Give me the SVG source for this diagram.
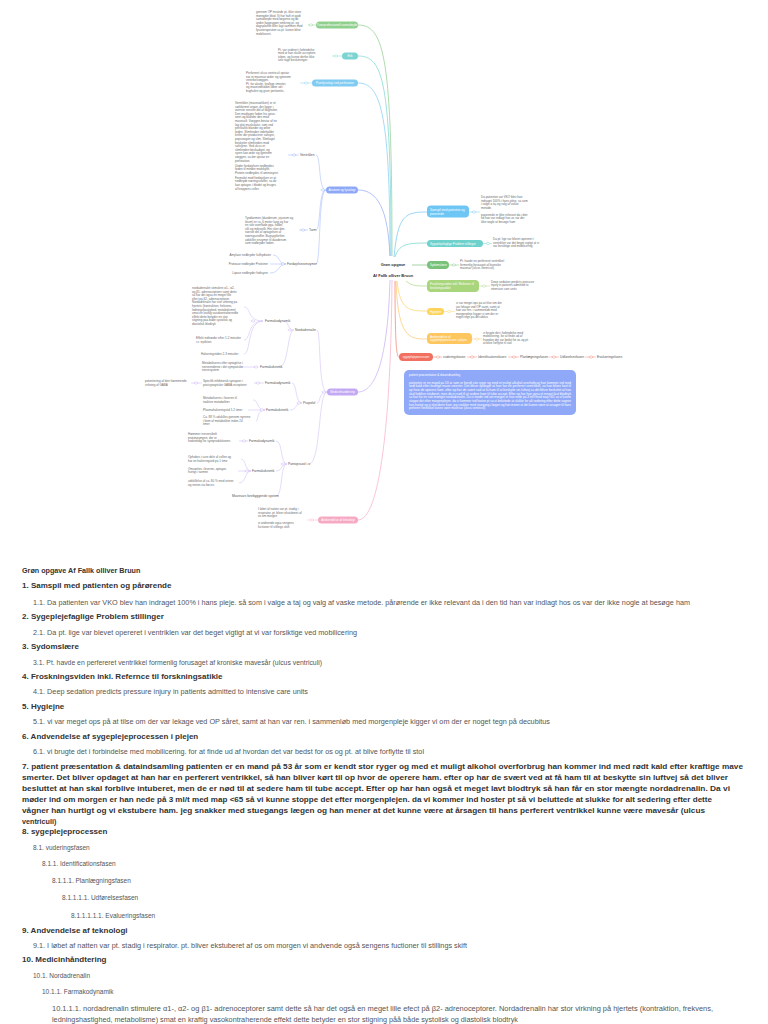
<svg xmlns="http://www.w3.org/2000/svg" width="768" height="1024" viewBox="0 0 768 1024">
<style>
text{font-family:"Liberation Sans",Arial,sans-serif}
.mm{font-size:3px;fill:#6a6a6a}
.lb{font-size:3.3px;fill:#555}
.pt{font-size:3px;fill:#fff}
.rt{font-size:4px;font-weight:bold;fill:#333;text-anchor:middle}
.bt{font-size:3px;fill:#fff}
.ti{font-size:7.2px;font-weight:bold;fill:#333}
.h{font-size:8px;font-weight:bold;fill:#333}
.s{font-size:6.5px;fill:#555}
.p{font-size:7.2px;font-weight:bold;fill:#333}
.c{fill:none;stroke-width:0.8}
.cs{fill:none;stroke-width:0.5}
</style>
<defs>
<path id="dm" d="M-2.2,0 L0,-1.3 L2.2,0 L0,1.3 Z" fill="#fff" stroke-width="0.5"/>
</defs>
<rect width="768" height="1024" fill="#fff"/>

<g id="connectors">
<path class="c" stroke="#9ad39a" d="M358,25 C385,25 392,60 392,256"/>
<path class="c" stroke="#86dad6" d="M358,56 C383,56 391,80 391,256"/>
<path class="c" stroke="#8fd2f4" d="M358,83 C380,83 390,110 390,256"/>
<path class="c" stroke="#9db4f8" d="M358,190 C378,190 388,210 390,256"/>
<path class="c" stroke="#cbb6f5" d="M390,280 C388,350 378,392 358,392"/>
<path class="c" stroke="#f7b8cc" d="M392,280 C391,420 380,520 358,520"/>
<path class="c" stroke="#80cdf5" d="M394,257 C398,215 405,212 427,212"/>
<path class="c" stroke="#7fd6d1" d="M395,257 C399,245 405,243 427,243"/>
<path class="c" stroke="#8ac98a" d="M412,265 L427,265"/>
<path class="c" stroke="#b5db90" d="M406,281 C412,286 416,286 427,286"/>
<path class="c" stroke="#fdd873" d="M397,281 C400,311 410,311 427,311"/>
<path class="c" stroke="#fdcd78" d="M396,281 C398,339 410,339 427,339"/>
<path class="c" stroke="#f48a7c" d="M395,281 C395,350 397,357 399,357"/>
<!-- green -->
<path class="cs" stroke="#9ad39a" d="M308,25 L316,25"/>
<!-- teal -->
<path class="cs" stroke="#86dad6" d="M332,56 L342,56"/>
<!-- light blue -->
<path class="cs" stroke="#8fd2f4" d="M300,83 L312,83"/>
<!-- periwinkle -->
<path class="cs" stroke="#9db4f8" d="M326,190 C318,190 321,155 316,155"/>
<path class="cs" stroke="#9db4f8" d="M326,190 C318,190 321,230 316,230"/>
<path class="cs" stroke="#9db4f8" d="M326,190 C318,190 321,264 316,264"/>
<path class="cs" stroke="#9db4f8" d="M288,155 L299,155"/>
<path class="cs" stroke="#9db4f8" d="M299,230 L308,230"/>
<path class="cs" stroke="#9db4f8" d="M286,264 C278,264 280,255 273,255"/>
<path class="cs" stroke="#9db4f8" d="M286,264 L270,264"/>
<path class="cs" stroke="#9db4f8" d="M286,264 C278,264 280,273 270,273"/>
<!-- purple -->
<path class="cs" stroke="#cbb6f5" d="M327,392 C318,392 321,330 317,330"/>
<path class="cs" stroke="#cbb6f5" d="M327,392 C318,392 321,403 317,403"/>
<path class="cs" stroke="#cbb6f5" d="M327,392 C318,392 321,464 309,464"/>
<path class="cs" stroke="#cbb6f5" d="M294,330 C287,330 289,321 284,321"/>
<path class="cs" stroke="#cbb6f5" d="M294,330 C287,330 289,367 279,367"/>
<path class="cs" stroke="#cbb6f5" d="M263,321 C247,321 251,307 244,307"/>
<path class="cs" stroke="#cbb6f5" d="M263,321 C247,321 251,340 244,340"/>
<path class="cs" stroke="#cbb6f5" d="M263,321 C247,321 251,354 244,354"/>
<path class="cs" stroke="#cbb6f5" d="M258,367 L241,367"/>
<path class="cs" stroke="#cbb6f5" d="M302,403 C295,403 297,383 292,383"/>
<path class="cs" stroke="#cbb6f5" d="M302,403 C295,403 297,410 290,410"/>
<path class="cs" stroke="#cbb6f5" d="M264,383 L254,383"/>
<path class="cs" stroke="#cbb6f5" d="M202,383 L191,383"/>
<path class="cs" stroke="#cbb6f5" d="M265,410 C256,410 259,400 253,400"/>
<path class="cs" stroke="#cbb6f5" d="M265,410 L248,410"/>
<path class="cs" stroke="#cbb6f5" d="M265,410 C256,410 259,421 256,421"/>
<path class="cs" stroke="#cbb6f5" d="M287,464 C280,464 283,441 276,441"/>
<path class="cs" stroke="#cbb6f5" d="M287,464 C280,464 283,471 276,471"/>
<path class="cs" stroke="#cbb6f5" d="M287,464 C280,464 283,496 276,496"/>
<path class="cs" stroke="#cbb6f5" d="M248,441 L239,441"/>
<path class="cs" stroke="#cbb6f5" d="M251,471 C245,471 246,459 241,459"/>
<path class="cs" stroke="#cbb6f5" d="M251,471 L238,471"/>
<path class="cs" stroke="#cbb6f5" d="M251,471 C245,471 246,483 239,483"/>
<!-- pink -->
<path class="cs" stroke="#f7b8cc" d="M307,520 L318,520"/>
<!-- right -->
<path class="cs" stroke="#80cdf5" d="M469,212 L480,212"/>
<path class="cs" stroke="#7fd6d1" d="M483,243.5 L492,243.5"/>
<path class="cs" stroke="#8ac98a" d="M449,265 L459,265"/>
<path class="cs" stroke="#b5db90" d="M479,286 L490,286"/>
<path class="cs" stroke="#fdd873" d="M444,311.5 L455,311.5"/>
<path class="cs" stroke="#fdcd78" d="M472,339 L482,339"/>
<path class="cs" stroke="#f48a7c" d="M433,357 L442,357 M467,357 L477,357 M508,357 L519,357 M549,357 L559,357 M585,357 L596,357"/>
</g>

<g id="markers">
<use href="#dm" x="311" y="25" stroke="#9ad39a"/>
<use href="#dm" x="336" y="56" stroke="#86dad6"/>
<use href="#dm" x="306" y="83" stroke="#8fd2f4"/>
<use href="#dm" x="323" y="190" stroke="#9db4f8"/>
<use href="#dm" x="294" y="155" stroke="#9db4f8"/>
<use href="#dm" x="303" y="230" stroke="#9db4f8"/>
<use href="#dm" x="283" y="264" stroke="#9db4f8"/>
<use href="#dm" x="324" y="392" stroke="#cbb6f5"/>
<use href="#dm" x="290" y="330" stroke="#cbb6f5"/>
<use href="#dm" x="253" y="321" stroke="#cbb6f5"/>
<use href="#dm" x="256" y="367" stroke="#cbb6f5"/>
<use href="#dm" x="299" y="403" stroke="#cbb6f5"/>
<use href="#dm" x="258" y="383" stroke="#cbb6f5"/>
<use href="#dm" x="196" y="383" stroke="#cbb6f5"/>
<use href="#dm" x="262" y="410" stroke="#cbb6f5"/>
<use href="#dm" x="283" y="464" stroke="#cbb6f5"/>
<use href="#dm" x="244" y="441" stroke="#cbb6f5"/>
<use href="#dm" x="247" y="471" stroke="#cbb6f5"/>
<use href="#dm" x="312" y="520" stroke="#f7b8cc"/>
<use href="#dm" x="474" y="212" stroke="#80cdf5"/>
<use href="#dm" x="488" y="243.5" stroke="#7fd6d1"/>
<use href="#dm" x="454" y="265" stroke="#8ac98a"/>
<use href="#dm" x="484" y="286" stroke="#b5db90"/>
<use href="#dm" x="449" y="311.5" stroke="#fdd873"/>
<use href="#dm" x="477" y="339" stroke="#fdcd78"/>
<use href="#dm" x="438" y="357" stroke="#f48a7c"/>
<use href="#dm" x="472" y="357" stroke="#f48a7c"/>
<use href="#dm" x="514" y="357" stroke="#f48a7c"/>
<use href="#dm" x="554" y="357" stroke="#f48a7c"/>
<use href="#dm" x="591" y="357" stroke="#f48a7c"/>
</g>

<g id="root">
<text class="rt" x="393" y="266">Grøn opgave</text>
<text class="rt" x="393" y="277">Af Fallk olliver Bruun</text>
</g>

<g id="n-samarbejde">
<rect x="316" y="21.5" width="42" height="7" rx="3.5" fill="#8fd08f"/>
<text class="pt" x="337" y="26.2" text-anchor="middle" font-size="2.8">Tværprofessionelt samarbejde</text>
<text class="mm" x="256" y="13"><tspan x="256">gennem OP mistede pt. ikke store</tspan><tspan x="256" dy="3.6">mængder blod. Vi har haft et godt</tspan><tspan x="256" dy="3.6">samarbejde med lægerne og de</tspan><tspan x="256" dy="3.6">andre faggrupper omkring pt. og</tspan><tspan x="256" dy="3.6">dagsplanen blev lagt sammen med</tspan><tspan x="256" dy="3.6">fysioterapeuten så pt. kunne blive</tspan><tspan x="256" dy="3.6">mobiliseret.</tspan></text>
</g>

<g id="n-etik">
<rect x="342" y="52.5" width="16" height="7" rx="3.5" fill="#7ad5d2"/>
<text class="pt" x="350" y="57.2" text-anchor="middle">Etik</text>
<text class="mm" x="278" y="50.5"><tspan x="278">Pt. var sederet i forbindelse</tspan><tspan x="278" dy="3.6">med at han skulle acceptere</tspan><tspan x="278" dy="3.6">tuben, og kunne derfor ikke</tspan><tspan x="278" dy="3.6">selv tage beslutninger.</tspan></text>
</g>

<g id="n-patofysiologi">
<rect x="312" y="79.5" width="46" height="7" rx="3.5" fill="#7fcbf2"/>
<text class="pt" x="335" y="84.2" text-anchor="middle">Patofysiologi ved perforation</text>
<text class="mm" x="246" y="74"><tspan x="246">Perforeret ulcus ventriculi opstår</tspan><tspan x="246" dy="3.6">når et mavesår æder sig igennem</tspan><tspan x="246" dy="3.6">ventrikelvæggen.</tspan><tspan x="246" dy="3.6">Pt. får akutte, kraftige smerter,</tspan><tspan x="246" dy="3.6">og maveindholdet løber ud i</tspan><tspan x="246" dy="3.6">bughulen og giver peritonitis.</tspan></text>
</g>

<g id="n-anatomi">
<rect x="326" y="186.5" width="32" height="7" rx="3.5" fill="#8ea8f7"/>
<text class="pt" x="342" y="191.1" text-anchor="middle" font-size="2.7">Anatomi og fysiologi</text>
<text class="lb" x="300" y="156.2">Ventriklen</text>
<text class="lb" x="309" y="231.2">Tarm</text>
<text class="lb" x="287" y="265.2">Fordøjelsesenzymer</text>
<text class="mm" x="235" y="104"><tspan x="235">Ventriklen (mavesækken) er et</tspan><tspan x="235" dy="3.6">sækformet organ, der ligger i</tspan><tspan x="235" dy="3.6">øverste venstre del af bughulen.</tspan><tspan x="235" dy="3.6">Den modtager føden fra spise-</tspan><tspan x="235" dy="3.6">røret og blander den med</tspan><tspan x="235" dy="3.6">mavesaft. Væggen består af tre</tspan><tspan x="235" dy="3.6">lag glat muskulatur, som ved</tspan><tspan x="235" dy="3.6">peristaltik blander og ælter</tspan><tspan x="235" dy="3.6">føden. Slimhinden indeholder</tspan><tspan x="235" dy="3.6">kirtler der producerer saltsyre,</tspan><tspan x="235" dy="3.6">pepsinogen og slim. Slimlaget</tspan><tspan x="235" dy="3.6">beskytter slimhinden mod</tspan><tspan x="235" dy="3.6">saltsyren. Ved ulcus er</tspan><tspan x="235" dy="3.6">slimhinden beskadiget, og</tspan><tspan x="235" dy="3.6">syren kan æde sig igennem</tspan><tspan x="235" dy="3.6">væggen, så der opstår en</tspan><tspan x="235" dy="3.6">perforation.</tspan><tspan x="235" dy="5">Under fordøjelsen nedbrydes</tspan><tspan x="235" dy="3.6">føden til mindre molekyler.</tspan><tspan x="235" dy="3.6">Protein nedbrydes til aminosyrer.</tspan><tspan x="235" dy="5">Formålet med fordøjelsen er at</tspan><tspan x="235" dy="3.6">nedbryde næringsstoffer, så de</tspan><tspan x="235" dy="3.6">kan optages i blodet og bruges</tspan><tspan x="235" dy="3.6">af kroppens celler.</tspan></text>
<text class="mm" x="245" y="219"><tspan x="245">Tyndtarmen (duodenum, jejunum og</tspan><tspan x="245" dy="3.6">ileum) er ca. 6 meter lang og har</tspan><tspan x="245" dy="3.6">en stor overflade pga. folder,</tspan><tspan x="245" dy="3.6">villi og mikrovilli. Her sker den</tspan><tspan x="245" dy="3.6">største del af optagelsen af</tspan><tspan x="245" dy="3.6">næringsstoffer. Bugspytkirtlen</tspan><tspan x="245" dy="3.6">udskiller enzymer til duodenum</tspan><tspan x="245" dy="3.6">som nedbryder føden.</tspan></text>
<text class="mm" x="271" y="256" text-anchor="end">Amylase nedbryder kulhydrater</text>
<text class="mm" x="268" y="265" text-anchor="end">Protease nedbryder Proteiner</text>
<text class="mm" x="268" y="274" text-anchor="end">Lipase nedbryder fedtsyrer</text>
</g>

<g id="n-medicin">
<rect x="327" y="388.5" width="31" height="7" rx="3.5" fill="#c3a8f3"/>
<text class="pt" x="342.5" y="393.1" text-anchor="middle" font-size="2.7">Medicinhåndtering</text>
<text class="lb" x="295" y="331.2">Nordadrenalin</text>
<text class="lb" x="265" y="322.2">Farmakodynamik</text>
<text class="lb" x="260" y="368.2">Farmakokinetik</text>
<text class="mm" x="192" y="289"><tspan x="192">nordadrenalin stimulere α1-, α2-</tspan><tspan x="192" dy="3.6">og β1- adrenoceptorer samt dette</tspan><tspan x="192" dy="3.6">så har det også en meget lille</tspan><tspan x="192" dy="3.6">efect på β2- adrenoceptorer.</tspan><tspan x="192" dy="3.6">Nordadrenalin har stor virkning på</tspan><tspan x="192" dy="3.6">hjertets (kontraktion, frekvens,</tspan><tspan x="192" dy="3.6">ledningshastighed, metabolisme)</tspan><tspan x="192" dy="3.6">smat en kraftig vasokontraherende</tspan><tspan x="192" dy="3.6">effekt dette betyder en stor</tspan><tspan x="192" dy="3.6">stigning påå både systolisk og</tspan><tspan x="192" dy="3.6">diastolisk blodtryk</tspan></text>
<text class="mm" x="196" y="339"><tspan x="196">Effekt indtræder efter 1-2 minutter</tspan><tspan x="196" dy="3.6">i.v. injektion</tspan></text>
<text class="mm" x="201" y="355">Halveringstiden 2-3 minutter</text>
<text class="mm" x="202" y="364"><tspan x="202">Metaboliseres efter optagelse i</tspan><tspan x="202" dy="3.6">nerveenderne i det sympatiske</tspan><tspan x="202" dy="3.6">nervesystem</tspan></text>
<text class="lb" x="303" y="404.2">Propofol</text>
<text class="lb" x="265" y="384.2">Farmakodynamik</text>
<text class="lb" x="266" y="411.2">Farmakokinetik</text>
<text class="mm" x="203" y="382"><tspan x="203">Specifik inhibitorisk synapser i</tspan><tspan x="203" dy="3.6">postsynaptiske GABA-receptorer</tspan></text>
<text class="mm" x="145" y="382"><tspan x="145">potentiering af den hæmmende</tspan><tspan x="145" dy="3.6">virkning af GABA</tspan></text>
<text class="mm" x="203" y="399"><tspan x="203">Metaboliseres i leveren til</tspan><tspan x="203" dy="3.6">inaktive metabolitter</tspan></text>
<text class="mm" x="203" y="411">Plasmahalveringstid 1-2 timer</text>
<text class="mm" x="203" y="418"><tspan x="203">Ca. 88 % udskilles gennem nyrerne</tspan><tspan x="203" dy="3.6">i form af metabolitter inden 24</tspan><tspan x="203" dy="3.6">timer</tspan></text>
<text class="lb" x="288" y="465.2">Pantoprazol i.v.</text>
<text class="lb" x="249" y="442.2">Farmakodynamik</text>
<text class="lb" x="252" y="472.2">Farmakokinetik</text>
<text class="lb" x="232" y="497.2">Mavesårs forebyggende system</text>
<text class="mm" x="188" y="435"><tspan x="188">Hæmmer irreversibelt</tspan><tspan x="188" dy="3.6">protonpumpen, der er</tspan><tspan x="188" dy="3.6">nødvendig for syreproduktionen.</tspan></text>
<text class="mm" x="188" y="458"><tspan x="188">Ophobes i sure dele af cellen og</tspan><tspan x="188" dy="3.6">har en halveringstid på 1 time</tspan></text>
<text class="mm" x="188" y="469.5"><tspan x="188">Omsættes i leveren, optages</tspan><tspan x="188" dy="3.6">hurtigt i tarmen</tspan></text>
<text class="mm" x="188" y="482"><tspan x="188">udskillelse af ca. 80 % med urinen</tspan><tspan x="188" dy="3.6">og resten via fæces</tspan></text>
</g>

<g id="n-teknologi">
<rect x="318" y="516.5" width="40" height="7" rx="3.5" fill="#f6a9c3"/>
<text class="pt" x="338" y="521.1" text-anchor="middle" font-size="2.7">Andvendelse af teknologi</text>
<text class="mm" x="258" y="510"><tspan x="258">I løbet af natten var pt. stadig i</tspan><tspan x="258" dy="3.6">respirator. pt. bliver ekstuberet af</tspan><tspan x="258" dy="3.6">os om morgen</tspan><tspan x="258" dy="7">vi andvende også sengens</tspan><tspan x="258" dy="3.6">fuctioner til stillings skift</tspan></text>
</g>

<g id="n-samspil">
<rect x="427" y="205.5" width="42" height="12" rx="4" fill="#6dc6f4"/>
<text class="pt" x="430" y="210.7"><tspan x="430">Samspil med patienten og</tspan><tspan x="430" dy="3.8">pårørende</tspan></text>
<text class="mm" x="481" y="198"><tspan x="481">Da patienten var VKO blev han</tspan><tspan x="481" dy="3.6">indraget 100% i hans pleje. så som</tspan><tspan x="481" dy="3.6">i valge a taj og valg af vaske</tspan><tspan x="481" dy="3.6">metode.</tspan><tspan x="481" dy="7">pårørende er ikke relevant da i den</tspan><tspan x="481" dy="3.6">tid han var indlagt hos os var der</tspan><tspan x="481" dy="3.6">ikke nogle at besøge ham</tspan></text>
</g>

<g id="n-problem">
<rect x="427" y="240" width="56" height="7" rx="3.5" fill="#6fd1cc"/>
<text class="pt" x="430" y="244.6">Sygeplejefaglige Problem stillinger</text>
<text class="mm" x="493" y="240"><tspan x="493">Da pt. lige var blevet opereret i</tspan><tspan x="493" dy="3.6">ventriklen var det beget vigtigt at vi</tspan><tspan x="493" dy="3.6">var forsiktige ved mobilicering</tspan></text>
</g>

<g id="n-sydomslaere">
<rect x="427" y="261" width="22" height="8" rx="4" fill="#78c178"/>
<text class="pt" x="430" y="266">Sydomslære</text>
<text class="mm" x="460" y="262"><tspan x="460">Pt. havde en perfereret ventrikkel</tspan><tspan x="460" dy="3.6">formenlig forusaget af kroniske</tspan><tspan x="460" dy="3.6">mavesår (ulcus ventriculi)</tspan></text>
</g>

<g id="n-forskning">
<rect x="427" y="280" width="52" height="12" rx="4" fill="#a9d57c"/>
<text class="pt" x="430" y="285.2"><tspan x="430">Froskningsviden inkl. Refernce til</tspan><tspan x="430" dy="3.8">forskningsatikle</tspan></text>
<text class="mm" x="491" y="282.5"><tspan x="491">Deep sedation predicts pressure</tspan><tspan x="491" dy="3.6">injury in patients admitted to</tspan><tspan x="491" dy="3.6">intensive care units</tspan></text>
</g>

<g id="n-hygiejne">
<rect x="427" y="308" width="17" height="7" rx="3.5" fill="#fdd35c"/>
<text class="pt" x="435.5" y="312.6" text-anchor="middle">Hygiejne</text>
<text class="mm" x="456" y="304"><tspan x="456">vi var meget ops på at tilse om der</tspan><tspan x="456" dy="3.6">var lekage ved OP såret, samt at</tspan><tspan x="456" dy="3.6">han var ren. i sammenløb med</tspan><tspan x="456" dy="3.6">morgenpleje kigger vi om der er</tspan><tspan x="456" dy="3.6">noget tegn på decubitus</tspan></text>
</g>

<g id="n-andvendelse">
<rect x="427" y="333" width="45" height="11" rx="4" fill="#fdc65f"/>
<text class="pt" x="430" y="337.8"><tspan x="430">Andvendelse af</tspan><tspan x="430" dy="3.6">sygeplejeprocessen i plejen</tspan></text>
<text class="mm" x="483" y="333.5"><tspan x="483">vi brugte det i forbindelse med</tspan><tspan x="483" dy="3.6">mobilicering. for at finde ud af</tspan><tspan x="483" dy="3.6">hvordan det var bedst for os og pt.</tspan><tspan x="483" dy="3.6">at blive forflytte til stol</tspan></text>
</g>

<g id="n-sygeplejeprocessen">
<rect x="399" y="353" width="34" height="8" rx="4" fill="#f2705f"/>
<text class="pt" x="416" y="358" text-anchor="middle" font-size="2.8">sygeplejeprocessen</text>
<text class="lb" x="443" y="358.2">vuderingsfasen</text>
<text class="lb" x="478" y="358.2">Identificationsfasen</text>
<text class="lb" x="520" y="358.2">Planlægningsfasen</text>
<text class="lb" x="560" y="358.2">Udførelsesfasen</text>
<text class="lb" x="597" y="358.2">Evalueringsfasen</text>
</g>

<g id="n-patient">
<rect x="404" y="370" width="172" height="45" rx="5" fill="#8fa9f8"/>
<text class="bt" x="409" y="376" font-size="3.2">patient præsentation &amp; dataindsamling</text>
<text class="bt" x="409" y="383.5"><tspan x="409" textLength="162" lengthAdjust="spacingAndGlyphs">patienten er en mand på 53 år som er kendt stor ryger og med et muligt alkohol overforbrug han kommer ind med</tspan><tspan x="409" dy="3.7" textLength="162" lengthAdjust="spacingAndGlyphs">rødt kald efter kraftige mave smerter. Det bliver opdaget at han har en perferert ventrikkel, så han bliver kørt til</tspan><tspan x="409" dy="3.7" textLength="162" lengthAdjust="spacingAndGlyphs">op hvor de operere ham. efter op har de svært ved at få ham til at beskytte sin luftvej så det bliver besluttet at han</tspan><tspan x="409" dy="3.7" textLength="162" lengthAdjust="spacingAndGlyphs">skal forblive intuberet, men de er nød til at sedere ham til tube accept. Efter op har han også et meget lavt blodtryk</tspan><tspan x="409" dy="3.7" textLength="162" lengthAdjust="spacingAndGlyphs">så han får en stor mængte nordadrenalin. Da vi møder ind om morgen er han nede på 3 ml/t med map &lt;65 så vi kunne</tspan><tspan x="409" dy="3.7" textLength="162" lengthAdjust="spacingAndGlyphs">stoppe det efter morgenplejen. da vi kommer ind hoster pt så vi beluttede at slukke for alt sedering efter dette vågner</tspan><tspan x="409" dy="3.7" textLength="162" lengthAdjust="spacingAndGlyphs">han hurtigt og vi ekstubere ham. jeg snakker med stuegangs lægen og han mener at det kunne være at årsagen til hans</tspan><tspan x="409" dy="3.7">perferert ventrikkel kunne være mavesår (ulcus ventriculi)</tspan></text>
</g>

<g id="outline">
<text class="ti" x="22" y="573">Grøn opgave Af Fallk olliver Bruun</text>
<text class="h" x="22" y="588">1. Samspil med patienten og pårørende</text>
<text class="s" x="33" y="605" textLength="657" lengthAdjust="spacingAndGlyphs">1.1. Da patienten var VKO blev han indraget 100% i hans pleje. så som i valge a taj og valg af vaske metode. pårørende er ikke relevant da i den tid han var indlagt hos os var der ikke nogle at besøge ham</text>
<text class="h" x="22" y="619">2. Sygeplejefaglige Problem stillinger</text>
<text class="s" x="33" y="635" textLength="324" lengthAdjust="spacingAndGlyphs">2.1. Da pt. lige var blevet opereret i ventriklen var det beget vigtigt at vi var forsiktige ved mobilicering</text>
<text class="h" x="22" y="649">3. Sydomslære</text>
<text class="s" x="33" y="665" textLength="289" lengthAdjust="spacingAndGlyphs">3.1. Pt. havde en perfereret ventrikkel formenlig forusaget af kroniske mavesår (ulcus ventriculi)</text>
<text class="h" x="22" y="679">4. Froskningsviden inkl. Refernce til forskningsatikle</text>
<text class="s" x="33" y="694" textLength="275" lengthAdjust="spacingAndGlyphs">4.1. Deep sedation predicts pressure injury in patients admitted to intensive care units</text>
<text class="h" x="22" y="709">5. Hygiejne</text>
<text class="s" x="33" y="724" textLength="517" lengthAdjust="spacingAndGlyphs">5.1. vi var meget ops på at tilse om der var lekage ved OP såret, samt at han var ren. i sammenløb med morgenpleje kigger vi om der er noget tegn på decubitus</text>
<text class="h" x="22" y="739">6. Andvendelse af sygeplejeprocessen i plejen</text>
<text class="s" x="33" y="754" textLength="391" lengthAdjust="spacingAndGlyphs">6.1. vi brugte det i forbindelse med mobilicering. for at finde ud af hvordan det var bedst for os og pt. at blive forflytte til stol</text>
<text class="p" x="22" y="769" textLength="721" lengthAdjust="spacingAndGlyphs">7. patient præsentation &amp; dataindsamling patienten er en mand på 53 år som er kendt stor ryger og med et muligt alkohol overforbrug han kommer ind med rødt kald efter kraftige mave</text>
<text class="p" x="22" y="780" textLength="706" lengthAdjust="spacingAndGlyphs">smerter. Det bliver opdaget at han har en perferert ventrikkel, så han bliver kørt til op hvor de operere ham. efter op har de svært ved at få ham til at beskytte sin luftvej så det bliver</text>
<text class="p" x="22" y="791" textLength="708" lengthAdjust="spacingAndGlyphs">besluttet at han skal forblive intuberet, men de er nød til at sedere ham til tube accept. Efter op har han også et meget lavt blodtryk så han får en stor mængte nordadrenalin. Da vi</text>
<text class="p" x="22" y="802" textLength="690" lengthAdjust="spacingAndGlyphs">møder ind om morgen er han nede på 3 ml/t med map &lt;65 så vi kunne stoppe det efter morgenplejen. da vi kommer ind hoster pt så vi beluttede at slukke for alt sedering efter dette</text>
<text class="p" x="22" y="813" textLength="683" lengthAdjust="spacingAndGlyphs">vågner han hurtigt og vi ekstubere ham. jeg snakker med stuegangs lægen og han mener at det kunne være at årsagen til hans perferert ventrikkel kunne være mavesår (ulcus</text>
<text class="p" x="22" y="824">ventriculi)</text>
<text class="h" x="22" y="834">8. sygeplejeprocessen</text>
<text class="s" x="33" y="850">8.1. vuderingsfasen</text>
<text class="s" x="42" y="866">8.1.1. Identificationsfasen</text>
<text class="s" x="52" y="883">8.1.1.1. Planlægningsfasen</text>
<text class="s" x="62" y="900">8.1.1.1.1. Udførelsesfasen</text>
<text class="s" x="71" y="918">8.1.1.1.1.1. Evalueringsfasen</text>
<text class="h" x="22" y="933">9. Andvendelse af teknologi</text>
<text class="s" x="33" y="948" textLength="434" lengthAdjust="spacingAndGlyphs">9.1. I løbet af natten var pt. stadig i respirator. pt. bliver ekstuberet af os om morgen vi andvende også sengens fuctioner til stillings skift</text>
<text class="h" x="22" y="962">10. Medicinhåndtering</text>
<text class="s" x="33" y="978">10.1. Nordadrenalin</text>
<text class="s" x="42" y="994">10.1.1. Farmakodynamik</text>
<text class="s" x="52" y="1011" textLength="661" lengthAdjust="spacingAndGlyphs">10.1.1.1. nordadrenalin stimulere α1-, α2- og β1- adrenoceptorer samt dette så har det også en meget lille efect på β2- adrenoceptorer. Nordadrenalin har stor virkning på hjertets (kontraktion, frekvens,</text>
<text class="s" x="52" y="1022" textLength="466" lengthAdjust="spacingAndGlyphs">ledningshastighed, metabolisme) smat en kraftig vasokontraherende effekt dette betyder en stor stigning påå både systolisk og diastolisk blodtryk</text>
</g>
</svg>
